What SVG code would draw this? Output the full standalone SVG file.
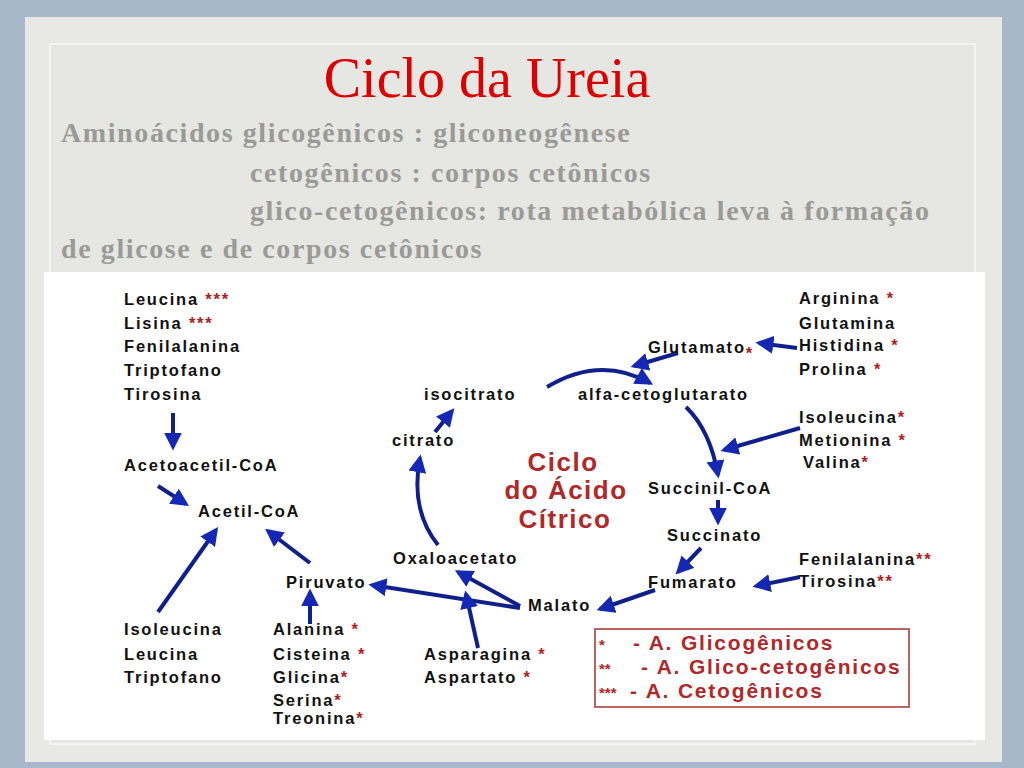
<svg xmlns="http://www.w3.org/2000/svg" width="1024" height="768" viewBox="0 0 1024 768">
<defs>
<style>
.l{font-family:"Liberation Sans",Arial,sans-serif;font-weight:bold;font-size:16.5px;fill:#111;letter-spacing:1.8px}
.s{fill:#b02020}
.c{font-family:"Liberation Sans",Arial,sans-serif;font-weight:bold;font-size:26px;fill:#b02828;text-anchor:middle;letter-spacing:1.5px}
.g{font-family:"Liberation Sans",Arial,sans-serif;font-weight:bold;font-size:21px;fill:#b02828;letter-spacing:1.8px}
.sub{font-family:"Liberation Serif","Times New Roman",serif;font-weight:bold;font-size:28px;fill:#9a9a96;letter-spacing:1.6px}
.a{fill:none;stroke:#10208a;stroke-width:4;marker-end:url(#ah)}
</style>
<marker id="ah" viewBox="0 0 10 10" refX="8" refY="5" markerWidth="4.5" markerHeight="4.5" orient="auto" markerUnits="strokeWidth"><path d="M0,0L10,5L0,10z" fill="#1428b4"/></marker>
</defs>
<rect width="1024" height="768" fill="#a8b8cb"/>
<rect x="25" y="17" width="977" height="745" fill="#e8e8e5"/>
<rect x="50" y="44" width="925" height="700" fill="#e6e6e3" stroke="#f4f4f2" stroke-width="2"/>
<text x="487" y="97" text-anchor="middle" font-family="Liberation Serif,'Times New Roman',serif" font-size="56" fill="#dd0000">Ciclo da Ureia</text>
<text class="sub" x="61" y="142">Aminoácidos glicogênicos : gliconeogênese</text>
<text class="sub" x="250" y="182">cetogênicos : corpos cetônicos</text>
<text class="sub" x="250" y="220">glico-cetogênicos: rota metabólica leva à formação</text>
<text class="sub" x="61" y="258">de glicose e de corpos cetônicos</text>
<rect x="44" y="272" width="941" height="468" fill="#ffffff"/>
<g id="connectors">
<path class="a" d="M173,413 L173,447"/>
<path class="a" d="M158,486 L186,504"/>
<path class="a" d="M158,612 L216,530"/>
<path class="a" d="M310,563 L268,531"/>
<path class="a" d="M310,624 L310,592"/>
<path class="a" d="M520,608 L372,585"/>
<path class="a" d="M520,606 L458,572"/>
<path class="a" d="M478,648 L466,594"/>
<path class="a" d="M655,590 L600,609"/>
<path class="a" d="M800,577 L756,586"/>
<path class="a" d="M701,548 L678,572"/>
<path class="a" d="M718,500 L718,522"/>
<path class="a" d="M800,428 L724,450"/>
<path class="a" d="M686,407 Q710,430 718,475"/>
<path class="a" d="M547,387 Q600,355 650,383"/>
<path class="a" d="M678,353 L634,366"/>
<path class="a" d="M797,348 L759,343"/>
<path class="a" d="M438,545 Q410,510 420,458"/>
<path class="a" d="M435,432 L452,411"/>
</g>
<g id="left-ketogenic">
<text class="l" x="124" y="305">Leucina <tspan class="s">***</tspan></text>
<text class="l" x="124" y="329">Lisina <tspan class="s">***</tspan></text>
<text class="l" x="124" y="352">Fenilalanina</text>
<text class="l" x="124" y="376">Triptofano</text>
<text class="l" x="124" y="400">Tirosina</text>
</g>
<g id="acetoacetil"><text class="l" x="124" y="471">Acetoacetil-CoA</text></g>
<g id="acetil"><text class="l" x="198" y="517">Acetil-CoA</text></g>
<g id="isocitrato"><text class="l" x="424" y="400">isocitrato</text></g>
<g id="alfa"><text class="l" x="578" y="400">alfa-cetoglutarato</text></g>
<g id="citrato"><text class="l" x="392" y="446">citrato</text></g>
<g id="glutamato"><text class="l" x="648" y="353">Glutamato<tspan class="s" dy="6">*</tspan></text></g>
<g id="ciclo"><text class="c" x="563" y="471">Ciclo</text><text class="c" x="566" y="499">do Ácido</text><text class="c" x="565" y="528">Cítrico</text></g>
<g id="succinil"><text class="l" x="648" y="494">Succinil-CoA</text></g>
<g id="succinato"><text class="l" x="667" y="541">Succinato</text></g>
<g id="fumarato"><text class="l" x="648" y="588">Fumarato</text></g>
<g id="malato"><text class="l" x="528" y="611">Malato</text></g>
<g id="oxaloacetato"><text class="l" x="393" y="564">Oxaloacetato</text></g>
<g id="piruvato"><text class="l" x="286" y="588">Piruvato</text></g>
<g id="right-top">
<text class="l" x="799" y="304">Arginina <tspan class="s">*</tspan></text>
<text class="l" x="799" y="329">Glutamina</text>
<text class="l" x="799" y="351">Histidina <tspan class="s">*</tspan></text>
<text class="l" x="799" y="375">Prolina <tspan class="s">*</tspan></text>
</g>
<g id="right-mid">
<text class="l" x="799" y="423">Isoleucina<tspan class="s">*</tspan></text>
<text class="l" x="799" y="446">Metionina <tspan class="s">*</tspan></text>
<text class="l" x="803" y="468">Valina<tspan class="s">*</tspan></text>
</g>
<g id="right-low">
<text class="l" x="799" y="565">Fenilalanina<tspan class="s">**</tspan></text>
<text class="l" x="799" y="587">Tirosina<tspan class="s">**</tspan></text>
</g>
<g id="left-bottom">
<text class="l" x="124" y="635">Isoleucina</text>
<text class="l" x="124" y="660">Leucina</text>
<text class="l" x="124" y="683">Triptofano</text>
</g>
<g id="pyruvate-aa">
<text class="l" x="273" y="635">Alanina <tspan class="s">*</tspan></text>
<text class="l" x="273" y="660">Cisteina <tspan class="s">*</tspan></text>
<text class="l" x="273" y="683">Glicina<tspan class="s">*</tspan></text>
<text class="l" x="273" y="706">Serina<tspan class="s">*</tspan></text>
<text class="l" x="273" y="724">Treonina<tspan class="s">*</tspan></text>
</g>
<g id="aspartate-aa">
<text class="l" x="424" y="660">Asparagina <tspan class="s">*</tspan></text>
<text class="l" x="424" y="683">Aspartato <tspan class="s">*</tspan></text>
</g>
<g id="legend">
<rect x="595" y="629" width="314" height="78" fill="#fff" stroke="#a83030" stroke-width="1.5"/>
<text class="g" x="599" y="650"><tspan font-size="15" letter-spacing="0">*</tspan><tspan x="633">- A. Glicogênicos</tspan></text>
<text class="g" x="599" y="674"><tspan font-size="15" letter-spacing="0">**</tspan><tspan x="641">- A. Glico-cetogênicos</tspan></text>
<text class="g" x="599" y="698"><tspan font-size="15" letter-spacing="0">***</tspan><tspan x="630">- A. Cetogênicos</tspan></text>
</g>
</svg>
